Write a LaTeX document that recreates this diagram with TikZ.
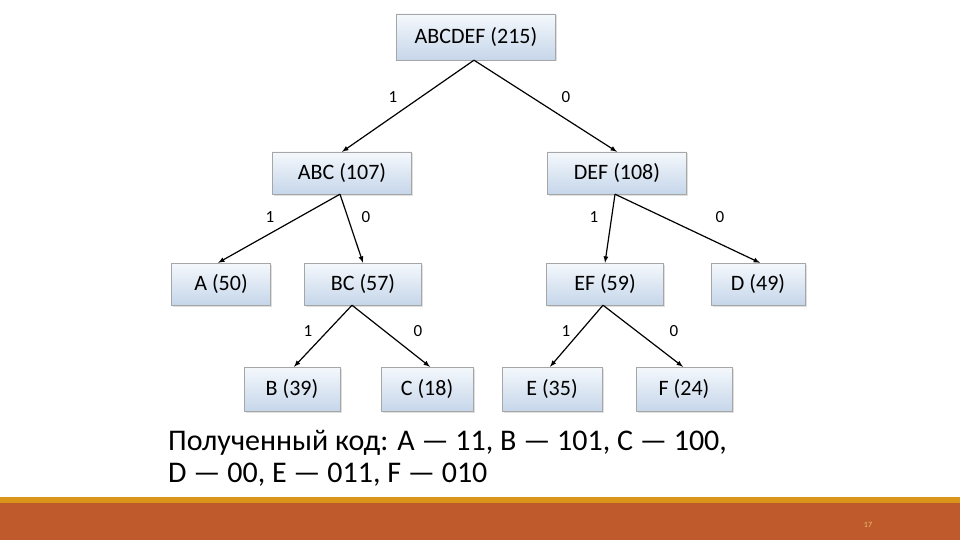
\documentclass[tikz,border=0pt]{standalone}
\usepackage{fontspec}
\setmainfont{Carlito}
\usetikzlibrary{shadows}
\definecolor{bar}{HTML}{BE5A2C}
\definecolor{gold}{HTML}{D9961A}
\definecolor{boxtop}{HTML}{F4F8FC}
\definecolor{boxbot}{HTML}{C6D6EA}
\begin{document}
\begin{tikzpicture}[x=1pt,y=-1pt,
  tbox/.style={draw=gray!70, top color=boxtop, bottom color=boxbot, minimum height=42, inner sep=0pt, font=\fontsize{22}{24}\selectfont, drop shadow={opacity=0.25,shadow xshift=1.5pt,shadow yshift=-1.5pt}},
  edge/.style={-latex, line width=1.2pt},
  lab/.style={font=\fontsize{17}{19}\selectfont}]
\useasboundingbox (0,0) rectangle (960,540);
\fill[white] (0,0) rectangle (960,540);
\fill[gold] (0,497) rectangle (960,503);
\fill[bar] (0,503) rectangle (960,540);
\node[text=gold!60!white, font=\fontsize{8}{9}\selectfont] (pg) at (868,525) {17};
\node[tbox, minimum width=159, minimum height=46] (r) at (476,37) {ABCDEF (215)};
\node[tbox, minimum width=139] (abc) at (342,173) {ABC (107)};
\node[tbox, minimum width=139] (def) at (617,173) {DEF (108)};
\node[tbox, minimum width=99] (a) at (221,284) {A (50)};
\node[tbox, minimum width=117] (bc) at (363,284) {BC (57)};
\node[tbox, minimum width=117] (ef) at (605,284) {EF (59)};
\node[tbox, minimum width=94] (d) at (758,284) {D (49)};
\node[tbox, minimum width=96, minimum height=44] (b) at (292,389) {B (39)};
\node[tbox, minimum width=92, minimum height=44] (c) at (427,389) {C (18)};
\node[tbox, minimum width=100, minimum height=44] (e) at (552,389) {E (35)};
\node[tbox, minimum width=96, minimum height=44] (f) at (684,389) {F (24)};
\draw[edge] ([xshift=-2]r.south) -- (abc.north);
\draw[edge] ([xshift=-2]r.south) -- (def.north);
\draw[edge] ([xshift=-2]abc.south) -- ([xshift=-3]a.north);
\draw[edge] ([xshift=-2]abc.south) -- (bc.north);
\draw[edge] ([xshift=-2]def.south) -- (ef.north);
\draw[edge] ([xshift=-2]def.south) -- ([xshift=2]d.north);
\draw[edge] ([xshift=-11]bc.south) -- ([xshift=2]b.north);
\draw[edge] ([xshift=-11]bc.south) -- ([xshift=3]c.north);
\draw[edge] ([xshift=-2]ef.south) -- ([xshift=-2]e.north);
\draw[edge] ([xshift=-2]ef.south) -- ([xshift=-1]f.north);
\node[lab] (l1) at (393,97) {1};
\node[lab] (l2) at (566,97) {0};
\node[lab] (l3) at (270,217) {1};
\node[lab] (l4) at (366,217) {0};
\node[lab] (l5) at (594,217) {1};
\node[lab] (l6) at (720,217) {0};
\node[lab] (l7) at (308,331) {1};
\node[lab] (l8) at (418,331) {0};
\node[lab] (l9) at (566,331) {1};
\node[lab] (l10) at (674,331) {0};
\node[anchor=north west, align=left, inner sep=0pt, font=\fontsize{30}{32}\selectfont] (code) at (168,430)
 {Полученный код: A — 11, B — 101, C — 100,\\D — 00, E — 011, F — 010};
\end{tikzpicture}
\end{document}
